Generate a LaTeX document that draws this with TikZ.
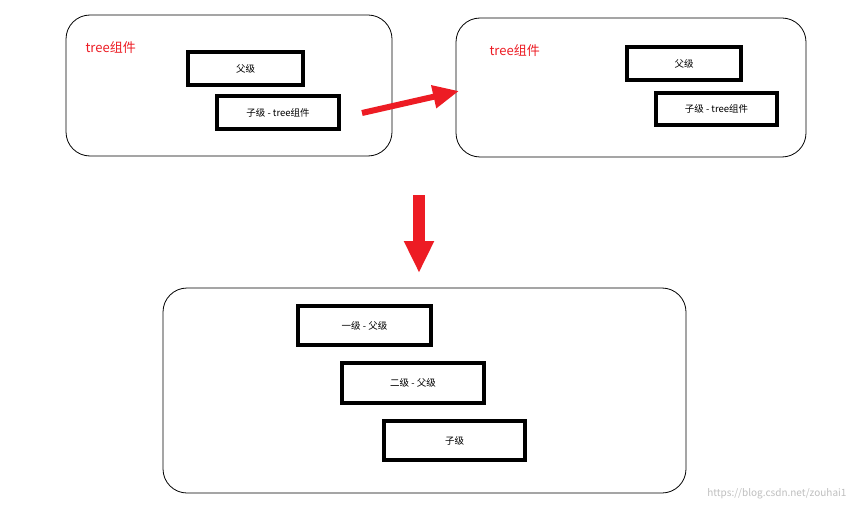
\documentclass[tikz,border=0pt]{standalone}
\usepackage{fontspec}
\setmainfont{Noto Sans CJK SC}
\usetikzlibrary{arrows.meta}
\definecolor{myred}{RGB}{237,28,36}
\begin{document}
\begin{tikzpicture}[x=1pt,y=-1pt,
  outer/.style={draw=black,line width=0.8pt,rounded corners=24pt},
  inner/.style={draw=black,line width=3.2pt},
  lbl/.style={font=\fontsize{9.5}{11}\selectfont},
  title/.style={text=myred,font=\fontsize{13}{15}\selectfont,anchor=west}]
\useasboundingbox[fill=white] (0,0) rectangle (853,513);
\draw[outer] (66,15) rectangle (392,156);
\draw[outer] (456,18) rectangle (806,157);
\draw[outer] (163,288) rectangle (686,493);
\node[title] (t1) at (82,48) {tree组件};
\node[title] (t2) at (486,51) {tree组件};
\draw[inner] (188,52) rectangle (303,85); \node[lbl] (a1) at (245.5,68.5) {父级};
\draw[inner] (217,96) rectangle (339,129); \node[lbl] (a2) at (278,112.5) {子级 - tree组件};
\draw[inner] (627,47) rectangle (741,80); \node[lbl] (b1) at (684,63.5) {父级};
\draw[inner] (656,93) rectangle (777,125); \node[lbl] (b2) at (716.5,109) {子级 - tree组件};
\draw[inner] (298,306) rectangle (431,345); \node[lbl] (c1) at (364.5,325.5) {一级 - 父级};
\draw[inner] (342,363) rectangle (484,403); \node[lbl] (c2) at (413,383) {二级 - 父级};
\draw[inner] (384,421) rectangle (525,460); \node[lbl] (c3) at (454.5,440.5) {子级};
\coordinate (s1) at (362,113); \coordinate (e1) at (459,91);
\draw[myred,line width=6pt,-{Triangle[length=26pt,width=22pt]}] (s1) -- (e1);
\coordinate (s2) at (419,195); \coordinate (e2) at (419,273);
\draw[myred,line width=12pt,-{Triangle[length=32pt,width=28pt]}] (s2) -- (e2);
\node[text=black!25,anchor=east,font=\fontsize{10}{12}\selectfont] (w) at (850,494) {https://blog.csdn.net/zouhai1};
\end{tikzpicture}
\end{document}
